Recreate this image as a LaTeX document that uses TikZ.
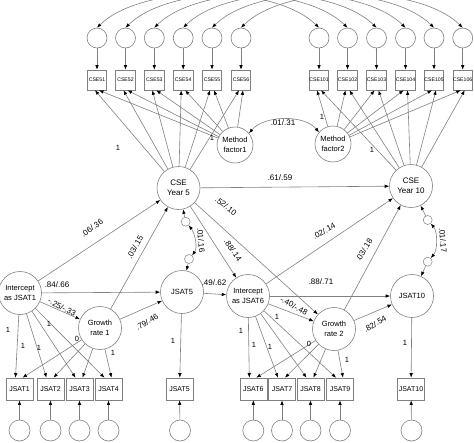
\documentclass[tikz,border=0pt]{standalone}
\usepackage{fontspec}
\setmainfont{Liberation Sans}
\usetikzlibrary{arrows.meta}
\definecolor{ln}{gray}{0.5}
\begin{document}
\begin{tikzpicture}[x=1pt,y=-1pt,
  lat/.style={circle,draw=ln,line width=0.6pt,inner sep=0pt,minimum size=43pt,align=center,font=\fontsize{7.5}{9.5}\selectfont},
  cse/.style={lat,font=\fontsize{8}{10}\selectfont},
  err/.style={circle,draw=ln,line width=0.6pt,minimum size=20pt,inner sep=0pt},
  dist/.style={circle,draw=ln,line width=0.5pt,minimum size=9pt,inner sep=0pt},
  cbox/.style={draw=ln,line width=0.6pt,minimum width=19.5pt,minimum height=20pt,inner sep=0pt,font=\fontsize{5.2}{6}\selectfont},
  jbox/.style={draw=ln,line width=0.6pt,minimum width=27pt,minimum height=22pt,inner sep=0pt,font=\fontsize{7}{8}\selectfont},
  arr/.style={draw=ln,line width=0.6pt,-{Latex[length=4.5pt,width=3.5pt,color=black]}},
  darr/.style={draw=ln,line width=0.6pt,{Latex[length=4.5pt,width=3.5pt,color=black]}-{Latex[length=4.5pt,width=3.5pt,color=black]}},
  lbl/.style={font=\fontsize{8}{9}\selectfont,inner sep=0.5pt},
  one/.style={font=\fontsize{7.5}{8}\selectfont,inner sep=0.5pt}]
\useasboundingbox (0,0) rectangle (474,442);
\clip (0,0) rectangle (474,442);
% CSE indicators and their errors
\foreach \i/\x in {1/97,2/125.5,3/154.3,4/183.2,5/212,6/241}{
  \node[err] (eL\i) at (\x,38) {};
  \node[cbox] (cL\i) at (\x,80) {CSE5\i};
  \draw[arr] (eL\i) -- (cL\i);
}
\foreach \i/\x in {1/319,2/347.5,3/376.5,4/405.5,5/434,6/462.7}{
  \node[err] (eR\i) at (\x,38) {};
  \node[cbox] (cR\i) at (\x,80) {CSE10\i};
  \draw[arr] (eR\i) -- (cR\i);
}
\foreach \i in {1,...,6}{
  \draw[darr] (eL\i.north) .. controls +(45,-44) and +(-45,-44) .. (eR\i.north);
}
% latent nodes
\node[lat,minimum size=36pt] (mf1) at (235,145) {Method\\factor1};
\node[lat,minimum size=36pt] (mf2) at (333,144) {Method\\factor2};
\node[cse] (cse5) at (178.5,188) {CSE\\Year 5};
\node[cse] (cse10) at (411,186) {CSE\\Year 10};
\node[lat] (int1) at (20,293) {Intercept\\as JSAT1};
\node[lat] (js5) at (182,292) {JSAT5};
\node[lat] (g1) at (100,328) {Growth\\rate 1};
\node[lat] (int6) at (248,296) {Intercept\\as JSAT6};
\node[lat] (g2) at (334,329) {Growth\\rate 2};
\node[lat] (js10) at (412,296) {JSAT10};
% disturbances
\node[dist] (d5) at (185.7,221.7) {};
\node[dist] (dj5) at (189,259) {};
\node[dist] (d10) at (427.7,220) {};
\node[dist] (dj10) at (427.7,261.7) {};
% loadings on CSE indicators
\foreach \i in {1,...,6}{
  \draw[arr] (cse5) -- ([xshift=-2pt]cL\i.south);
  \draw[arr] (mf1) -- ([xshift=2pt]cL\i.south);
  \draw[arr] (cse10) -- ([xshift=2pt]cR\i.south);
  \draw[arr] (mf2) -- ([xshift=-2pt]cR\i.south);
}
\draw[darr] (mf1.40) .. controls +(15,-18) and +(-15,-18) .. (mf2.140);
% JSAT indicators
\foreach \i/\x in {1/19.5,2/50.5,3/79.5,4/108.5}{
  \node[jbox] (j\i) at (\x,389) {JSAT\i};
  \node[err,minimum size=21pt] (ej\i) at (\x,430.5) {};
  \draw[arr] (ej\i) -- (j\i);
  \draw[arr] (int1) -- ([xshift=-4pt]j\i.north);
  \draw[arr] (g1) -- ([xshift=3pt]j\i.north);
}
\foreach \i/\x in {6/253.3,7/282,8/310.5,9/340}{
  \node[jbox] (j\i) at (\x,389) {JSAT\i};
  \node[err,minimum size=21pt] (ej\i) at (\x,430.5) {};
  \draw[arr] (ej\i) -- (j\i);
  \draw[arr] (int6) -- ([xshift=-4pt]j\i.north);
  \draw[arr] (g2) -- ([xshift=3pt]j\i.north);
}
\node[jbox] (j5) at (179.5,389) {JSAT5};
\node[err,minimum size=21pt] (ej5) at (180,430.5) {};
\draw[arr] (ej5) -- (j5);
\draw[arr] (js5) -- (j5);
\node[jbox] (j10) at (411,389) {JSAT10};
\node[err,minimum size=21pt] (ej10) at (411.5,430.5) {};
\draw[arr] (ej10) -- (j10);
\draw[arr] (js10) -- (j10);
% structural paths
\draw[arr] (int1) -- (cse5);
\draw[arr] (g1) -- (cse5);
\draw[arr] (int1) -- (js5);
\draw[arr] (int1) -- (g1);
\draw[arr] (g1) -- (js5);
\draw[arr] (js5) -- (int6);
\draw[arr] (cse5) -- (int6);
\draw[arr] (cse5) -- (g2);
\draw[arr] (cse5) -- (cse10);
\draw[arr] (int6) -- (cse10);
\draw[arr] (g2) -- (cse10);
\draw[arr] (int6) -- (js10);
\draw[arr] (int6) -- (g2);
\draw[arr] (g2) -- (js10);
\draw[arr] (d5) -- (cse5);
\draw[arr] (dj5) -- (js5);
\draw[arr] (d10) -- (cse10);
\draw[arr] (dj10) -- (js10);
\draw[darr] (d5.-50) .. controls +(6,8) and +(6,-8) .. (dj5.50);
\draw[darr] (d10.-50) .. controls +(7,8) and +(7,-8) .. (dj10.50);
% coefficient labels
\node[lbl] (l1) at (283,123) {.01/.31};
\node[lbl] (l2) at (280,178) {.61/.59};
\node[lbl,rotate=35] (l3) at (92,228) {.06/.36};
\node[lbl,rotate=60] (l4) at (135,247) {.03/.15};
\node[lbl] (l5) at (57,285) {.84/.66};
\node[lbl,rotate=-27] (l6) at (62,307) {-.25/-.33};
\node[lbl,rotate=30] (l7) at (147,322) {.79/.46};
\node[lbl] (l8) at (214,283) {.49/.62};
\node[lbl,rotate=-55] (l9) at (233,250) {.88/.14};
\node[lbl,rotate=-38] (l10) at (226,206) {.52/.10};
\node[lbl,rotate=28] (l11) at (324,231) {.02/.14};
\node[lbl,rotate=58] (l12) at (364,250) {.03/.18};
\node[lbl] (l13) at (321,282) {.88/.71};
\node[lbl,rotate=-28] (l14) at (294,306) {-.40/-.48};
\node[lbl,rotate=30] (l15) at (375,324) {.82/.54};
\node[lbl,rotate=-85] (l16) at (201,240) {.01/.16};
\node[lbl,rotate=-85] (l17) at (443,240) {.01/.17};
% fixed loadings
\node[one] (o1) at (212,138) {1};
\node[one] (o2) at (118,148) {1};
\node[one] (o3) at (322,117) {1};
\node[one] (o4) at (372,150) {1};
\node[one] (o5) at (8,330) {1};
\node[one] (o6) at (49,324) {1};
\node[one] (o7) at (23,346) {1};
\node[one] (o8) at (39,348) {1};
\node[one] (o9) at (77,339) {0};
\node[one] (o10) at (113,353) {1};
\node[one] (o11) at (173,341) {1};
\node[one] (o12) at (241,331) {1};
\node[one] (o13) at (277,317) {1};
\node[one] (o14) at (254,345) {1};
\node[one] (o15) at (270,347) {1};
\node[one] (o16) at (309,344) {0};
\node[one] (o17) at (347,360) {1};
\node[one] (o18) at (405,343) {1};
\end{tikzpicture}
\end{document}
